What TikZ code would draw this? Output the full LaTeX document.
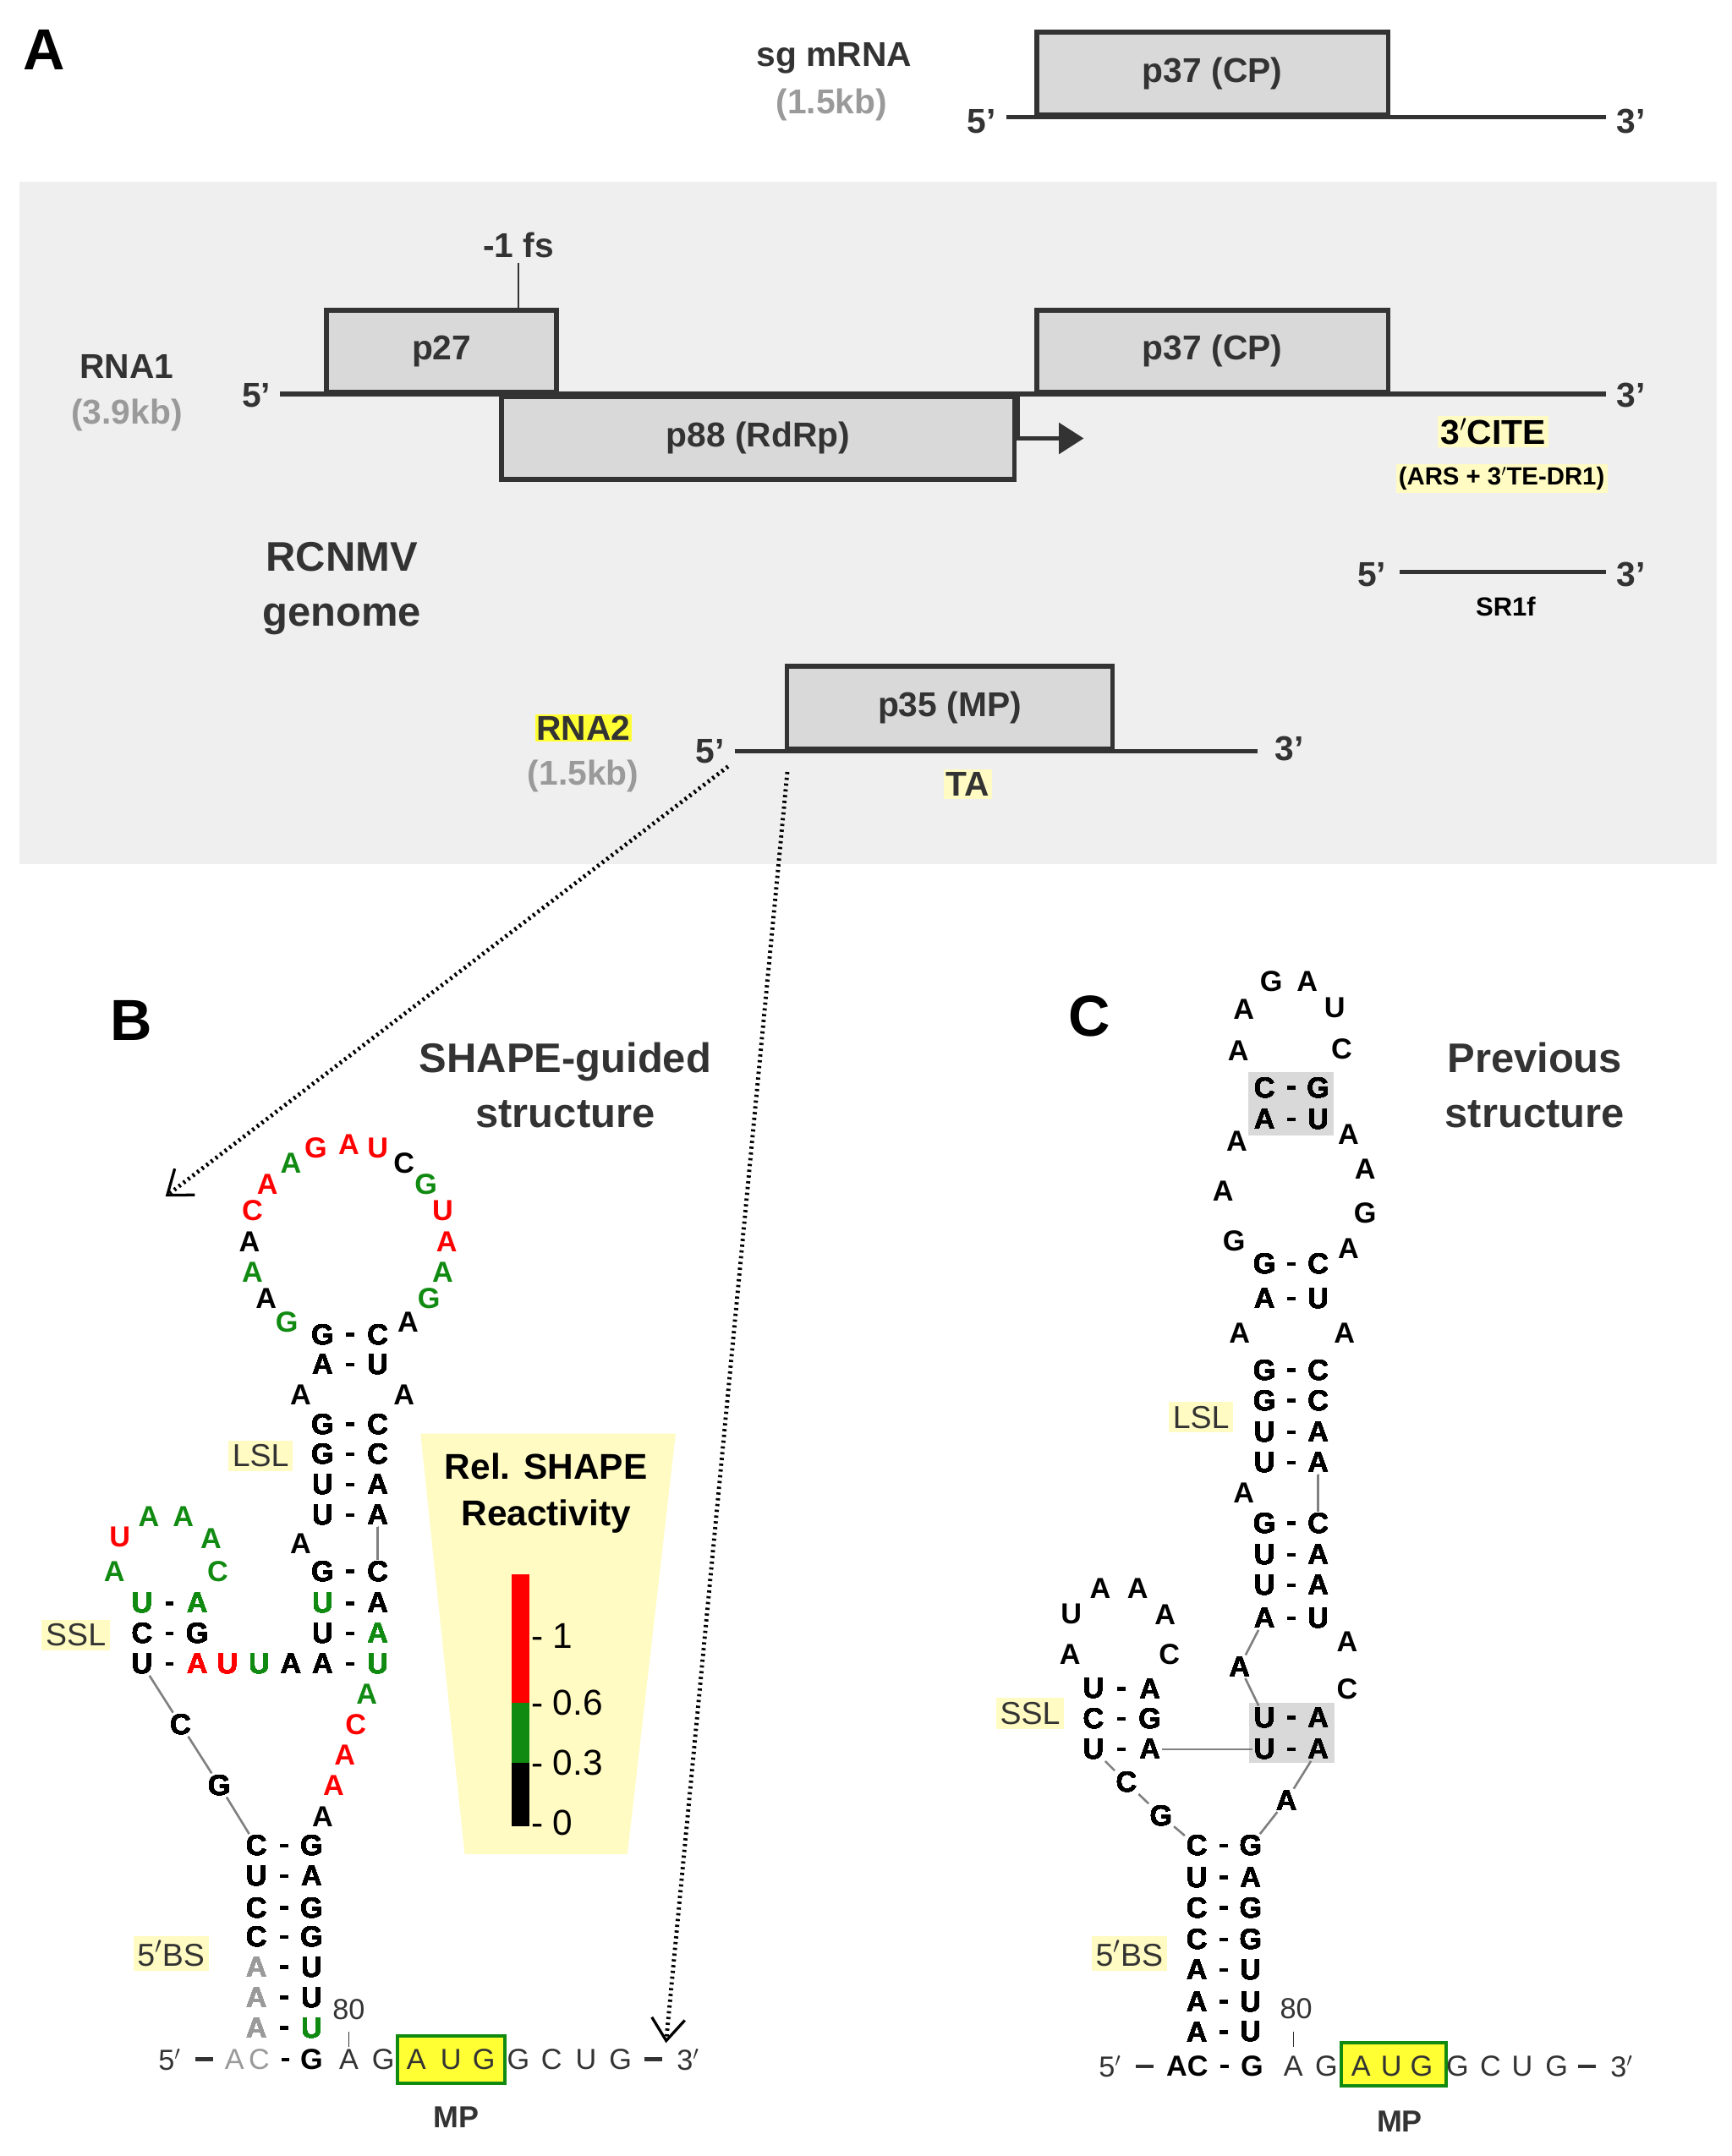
\documentclass[tikz,border=0pt]{standalone}
\usepackage{fontspec}
\setmainfont{Liberation Sans}
\usetikzlibrary{arrows.meta}
\definecolor{dk}{HTML}{333333}
\definecolor{rr}{HTML}{FF0000}
\definecolor{gg}{HTML}{118A11}
\definecolor{gy}{HTML}{9A9A9A}
\definecolor{bx}{HTML}{D9D9D9}
\definecolor{bg}{HTML}{EFEFEF}
\definecolor{yl}{HTML}{FFFF33}
\definecolor{ly}{HTML}{FFFBC2}
\colorlet{k}{black}\colorlet{r}{rr}\colorlet{g}{gg}\colorlet{q}{gy}
\tikzset{
 nt/.style={inner sep=1pt,font=\fontsize{21}{21}\bfseries\selectfont},
 rg/.style={inner sep=1pt,font=\fontsize{21}{21}\selectfont,text=dk},
 gene/.style={draw=dk,line width=3.5pt,fill=bx},
 rna/.style={draw=dk,line width=3.5pt},
 lab/.style={font=\fontsize{25}{25}\bfseries\selectfont,text=dk},
 big/.style={font=\fontsize{30}{40}\bfseries\selectfont,text=dk,align=center},
 kb/.style={font=\fontsize{25}{25}\bfseries\selectfont,text=gy},
 hl/.style={fill=ly,inner sep=3pt,font=\fontsize{23}{23}\selectfont,text=dk},
 gl/.style={draw=gray,line width=1.6pt},
 bpd/.style={fill=black,inner sep=0pt,minimum width=6pt,minimum height=2.8pt},
 lbar/.style={fill=dk,inner sep=0pt,minimum width=13pt,minimum height=3pt},
 dots/.style={line width=3pt,dash pattern=on 1.6pt off 2.6pt,-{Straight Barb[length=16pt,width=24pt,line width=2pt]}},
}
\newcommand\N[5]{\node[nt,text=#5] (#1) at (#2,#3) {#4};}
\newcommand\bp[8]{\node[nt,text=#7] (#1l) at (#2,#4) {#5};
 \node[nt,text=#8] (#1r) at (#3,#4) {#6};
 \node[bpd] (#1d) at ({(#2+#3)/2},#4) {};}
\begin{document}
\begin{tikzpicture}[x=1pt,y=-1pt]
\useasboundingbox (0,0) rectangle (1256,1564);
\fill[white] (0,0) rectangle (1256,1564);
% ---------- Panel A
\node[font=\fontsize{42}{42}\bfseries\selectfont] (lA) at (32,36) {A};
\node[lab] (sg) at (605,42) {sg mRNA};
\node[kb] (sgkb) at (603,76) {(1.5kb)};
\draw[rna] (730,85) coordinate (s5) -- (1165,85) coordinate (s3);
\node[gene,minimum width=255pt,minimum height=60pt,anchor=south west,lab] (sgcp) at (750,85) {p37 (CP)};
\node[lab] (s5l) at (712,88) {5'};
\node[lab] (s3l) at (1183,88) {3'};
\fill[bg] (14,132) rectangle (1245,627);
\node[lab] (r1) at (92,266) {RNA1};
\node[kb] (r1kb) at (92,301) {(3.9kb)};
\draw[rna] (203,286) coordinate (r15) -- (1165,286) coordinate (r13);
\node[lab] (r15l) at (186,287) {5'};
\node[lab] (r13l) at (1183,287) {3'};
\node[gene,minimum width=167pt,minimum height=59pt,anchor=south west,lab] (p27) at (235,286) {p27};
\node[gene,minimum width=372pt,minimum height=60pt,anchor=north west,lab] (p88) at (362,286) {p88 (RdRp)};
\node[gene,minimum width=255pt,minimum height=59pt,anchor=south west,lab] (p37) at (750,286) {p37 (CP)};
\node[lab] (fs) at (376,178) {-1 fs};
\draw[dk,line width=1.5pt] (fs.south) -- (p27.north -| fs);
\coordinate (pr0) at (738,286); \coordinate (pr1) at (738,318); \coordinate (pr2) at (786,318);
\draw[dk,line width=3.5pt,-{Triangle[length=18pt,width=22pt]}] (pr0) -- (pr1) -- (pr2);
\node[fill=ly,inner sep=2pt,font=\fontsize{25}{25}\bfseries\selectfont] (cite) at (1083,313) {3$'$CITE};
\node[fill=ly,inner sep=2pt,font=\fontsize{18}{18}\bfseries\selectfont] (ars) at (1089,347) {(ARS + 3$'$TE-DR1)};
\draw[rna] (1015,415) coordinate (f5) -- (1165,415) coordinate (f3);
\node[lab] (f5l) at (995,417) {5'};
\node[lab] (f3l) at (1183,417) {3'};
\node[font=\fontsize{19}{19}\bfseries\selectfont] (sr) at (1092,440) {SR1f};
\node[big] (gen) at (248,427) {RCNMV\\genome};
\node[lab,fill=yl,inner sep=1pt] (r2) at (423,528) {RNA2};
\node[kb] (r2kb) at (423,563) {(1.5kb)};
\draw[rna] (533,545) coordinate (r25) -- (912,545) coordinate (r23);
\node[lab] (r25l) at (515,545) {5'};
\node[lab] (r23l) at (935,543) {3'};
\node[gene,minimum width=236pt,minimum height=60pt,anchor=south west,lab] (p35) at (569,545) {p35 (MP)};
\node[lab,fill=ly,inner sep=2pt] (ta) at (702,569) {TA};
\coordinate (d1a) at (528,556); \coordinate (d1b) at (120,868);
\coordinate (d2a) at (571,560); \coordinate (d2b) at (483,1482);
\draw[dots] (d1a) -- (d1b);
\draw[dots] (d2a) -- (d2b);
% ---------- Panel B
\node[font=\fontsize{42}{42}\bfseries\selectfont] (lB) at (95,740) {B};
\node[big] (sh) at (410,787) {SHAPE-guided\\structure};
\node[hl] (lsl) at (189,1056) {LSL};
\node[hl] (ssl) at (55,1186) {SSL};
\node[hl] (bs) at (124,1417) {5$'$BS};
\foreach \x/\y/\l/\c [count=\i] in {211/844/A/g,229/833/G/r,253/830/A/r,274/833/U/r,293/844/C/k,309/859/G/g,321/878/U/r,324/901/A/r,321/923/A/g,311/942/G/g,296/959/A/k,194/859/A/r,183/878/C/r,181/901/A/k,183/923/A/g,193/942/A/k,208/959/G/g,218/1012/A/k,293/1012/A/k,218/1120/A/k,83/1140/A/g,87/1115/U/r,108/1100/A/g,133/1100/A/g,153/1116/A/g,158/1140/C/g,266/1229/A/g,258/1251/C/r,250/1273/A/r,242/1295/A/r,234/1318/A/k}
 \N{bl\i}{\x}{\y}{\l}{\c}
\bp{b1}{234}{274}{968}{G}{C}{k}{k}
\bp{b2}{234}{274}{990}{A}{U}{k}{k}
\bp{b3}{234}{274}{1033}{G}{C}{k}{k}
\bp{b4}{234}{274}{1055}{G}{C}{k}{k}
\bp{b5}{234}{274}{1077}{U}{A}{k}{k}
\bp{b6}{234}{274}{1099}{U}{A}{k}{k}
\bp{b7}{234}{274}{1140}{G}{C}{k}{k}
\bp{b8}{234}{274}{1163}{U}{A}{g}{k}
\bp{b9}{234}{274}{1185}{U}{A}{k}{g}
\bp{b10}{234}{274}{1207}{A}{U}{k}{g}
\bp{s1}{103}{143}{1163}{U}{A}{g}{g}
\bp{s2}{103}{143}{1185}{C}{G}{k}{k}
\bp{s3}{103}{143}{1207}{U}{A}{k}{r}
\N{bu1}{165}{1207}{U}{r}
\N{bu2}{188}{1207}{U}{g}
\N{bu3}{211}{1207}{A}{k}
\N{bc}{131}{1251}{C}{k}
\N{bg}{159}{1295}{G}{k}
\bp{t1}{186}{226}{1339}{C}{G}{k}{k}
\bp{t2}{186}{226}{1361}{U}{A}{k}{k}
\bp{t3}{186}{226}{1384}{C}{G}{k}{k}
\bp{t4}{186}{226}{1405}{C}{G}{k}{k}
\bp{t5}{186}{226}{1427}{A}{U}{q}{k}
\bp{t6}{186}{226}{1449}{A}{U}{q}{k}
\bp{t7}{186}{226}{1471}{A}{U}{q}{g}
\draw[gl] (b6r) -- (b7r);
\draw[gl] (s3l) -- (bc) -- (bg) -- (t1l);
\node[rg] (b80) at (253,1458) {80};
\draw[dk,line width=1pt] (253,1474) -- (253,1485);
\fill[yl] (288,1477) rectangle (366,1511);
\draw[gg,line width=2.5pt] (288,1477) rectangle (366,1511);
\foreach \x/\l [count=\i] in {123/5$'$,253/A,278/G,302/A,327/U,351/G,376/G,400/C,425/U,450/G,499/3$'$}
 \node[rg] (bb\i) at (\x,1494) {\l};
\node[lbar] (bbar1) at (148,1494) {};
\node[lbar] (bbar2) at (474,1494) {};
\node[rg,text=gy] (bx1) at (170,1494) {A};
\node[rg,text=gy] (bx2) at (188,1494) {C};
\node[bpd] (bx3) at (207,1494) {};
\node[nt] (bx4) at (226,1494) {G};
\node[font=\fontsize{22}{22}\bfseries\selectfont,text=dk] (bmp) at (331,1536) {MP};
% legend
\fill[ly] (305,1040) -- (490,1040) -- (455,1345) -- (337,1345) -- cycle;
\node[font=\fontsize{26}{34}\bfseries\selectfont,align=center] (leg) at (396,1083) {Rel. SHAPE\\Reactivity};
\fill[rr] (371,1142) rectangle (384,1235);
\fill[gg] (371,1235) rectangle (384,1279);
\fill[black] (371,1279) rectangle (384,1325);
\foreach \v/\y in {1/1187,0.6/1235,0.3/1279,0/1322}
 \node[anchor=west,font=\fontsize{26}{26}\selectfont,inner sep=0pt] at (385,\y) {- \v};
% ---------- Panel C
\node[font=\fontsize{42}{42}\bfseries\selectfont] (lC) at (790,737) {C};
\node[big] (prev) at (1113,787) {Previous\\structure};
\fill[bx] (905,778) rectangle (967,824);
\fill[bx] (906,1235) rectangle (968,1279);
\node[hl] (clsl) at (871,1028) {LSL};
\node[hl] (cssl) at (747,1243) {SSL};
\node[hl] (cbs) at (819,1417) {5$'$BS};
\foreach \x/\y/\l [count=\i] in {922/712/G,948/712/A,968/731/U,973/761/C,902/732/A,898/762/A,897/828/A,887/864/A,895/900/G,978/823/A,990/848/A,990/880/G,978/906/A,899/967/A,975/967/A,902/1083/A,977/1191/A,977/1225/C,776/1200/A,777/1171/U,798/1152/A,825/1152/A,845/1171/A,848/1200/C}
 \N{cl\i}{\x}{\y}{\l}{k}
\N{ca1}{899}{1209}{A}{k}
\N{cc}{817}{1293}{C}{k}
\N{cg}{842}{1317}{G}{k}
\N{ca2}{933}{1306}{A}{k}
\bp{c1}{917}{956}{789}{C}{G}{k}{k}
\bp{c2}{917}{956}{812}{A}{U}{k}{k}
\bp{c3}{917}{956}{917}{G}{C}{k}{k}
\bp{c4}{917}{956}{942}{A}{U}{k}{k}
\bp{c5}{917}{956}{994}{G}{C}{k}{k}
\bp{c6}{917}{956}{1016}{G}{C}{k}{k}
\bp{c7}{917}{956}{1039}{U}{A}{k}{k}
\bp{c8}{917}{956}{1061}{U}{A}{k}{k}
\bp{c9}{917}{956}{1105}{G}{C}{k}{k}
\bp{c10}{917}{956}{1128}{U}{A}{k}{k}
\bp{c11}{917}{956}{1150}{U}{A}{k}{k}
\bp{c12}{917}{956}{1174}{A}{U}{k}{k}
\bp{c13}{917}{956}{1246}{U}{A}{k}{k}
\bp{c14}{917}{956}{1269}{U}{A}{k}{k}
\bp{d1}{793}{834}{1225}{U}{A}{k}{k}
\bp{d2}{793}{834}{1247}{C}{G}{k}{k}
\bp{d3}{793}{834}{1269}{U}{A}{k}{k}
\bp{e1}{868}{907}{1339}{C}{G}{k}{k}
\bp{e2}{868}{907}{1362}{U}{A}{k}{k}
\bp{e3}{868}{907}{1384}{C}{G}{k}{k}
\bp{e4}{868}{907}{1407}{C}{G}{k}{k}
\bp{e5}{868}{907}{1429}{A}{U}{k}{k}
\bp{e6}{868}{907}{1452}{A}{U}{k}{k}
\bp{e7}{868}{907}{1474}{A}{U}{k}{k}
\draw[gl] (c8r) -- (c9r);
\draw[gl] (c12l) -- (ca1) -- (c13l);
\draw[gl] (d3r) -- (c14l);
\draw[gl] (d3l) -- (cc) -- (cg) -- (e1l);
\draw[gl] (c14r) -- (ca2) -- (e1r);
\node[rg] (c80) at (940,1457) {80};
\draw[dk,line width=1pt] (938,1474) -- (938,1485);
\fill[yl] (973,1482) rectangle (1049,1513);
\draw[gg,line width=2.5pt] (973,1482) rectangle (1049,1513);
\foreach \x/\l [count=\i] in {805/5$'$,938/A,962/G,987/A,1009/U,1031/G,1057/G,1081/C,1104/U,1129/G,1176/3$'$}
 \node[rg] (cb\i) at (\x,1499) {\l};
\node[lbar] (cbar1) at (830,1499) {};
\node[lbar] (cbar2) at (1151,1499) {};
\node[nt] (cbk1) at (861,1499) {AC};
\node[bpd] (cbk2) at (888,1499) {};
\node[nt] (cbk3) at (908,1499) {G};
\node[font=\fontsize{22}{22}\bfseries\selectfont,text=dk] (cmp) at (1015,1539) {MP};
\end{tikzpicture}
\end{document}
